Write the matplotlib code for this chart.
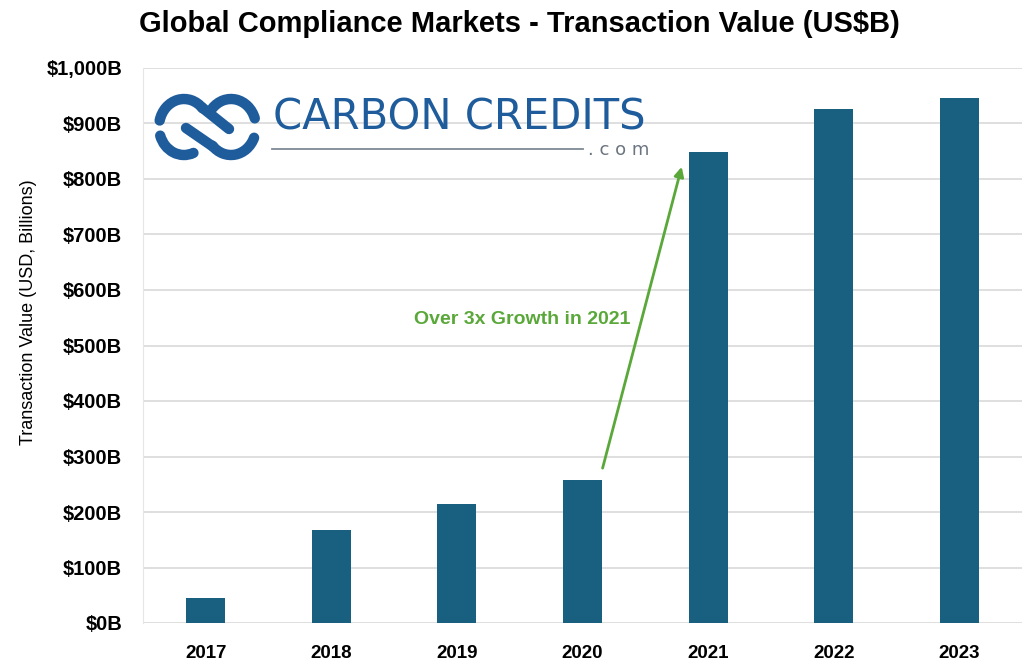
import matplotlib
matplotlib.use("Agg")
import matplotlib.pyplot as plt
from matplotlib.patches import Arc

# data
years = ["2017", "2018", "2019", "2020", "2021", "2022", "2023"]
values = [45, 168, 214, 258, 848, 926, 946]
yticks = [0, 100, 200, 300, 400, 500, 600, 700, 800, 900, 1000]
ytick_labels = ["$0B", "$100B", "$200B", "$300B", "$400B", "$500B",
                "$600B", "$700B", "$800B", "$900B", "$1,000B"]

bar_color = "#185f80"
green = "#5aa83a"
logo_blue = "#1f5c9c"

plt.rcParams['font.family'] = ['Liberation Sans', 'DejaVu Sans']

fig = plt.figure(figsize=(10.24, 6.62), dpi=100)
ax = fig.add_axes([143/1024, 39/662, 879/1024, 555/662])

x = range(len(years))
ax.bar(x, values, width=0.31, color=bar_color, zorder=3)
ax.set_xlim(-0.5, 6.5)
ax.set_ylim(0, 1000)
ax.set_yticks(yticks)
ax.set_yticklabels(ytick_labels, fontsize=14.5, fontweight='bold')
ax.set_xticks(list(x))
ax.set_xticklabels(years, fontsize=13.5, fontweight='bold')
ax.tick_params(axis='y', length=0, pad=15)
ax.tick_params(axis='x', length=0, pad=16)
ax.grid(axis='y', color='#d9d9d9', linewidth=1.2, zorder=0)
for s in ['top', 'right', 'bottom']:
    ax.spines[s].set_visible(False)
ax.spines['left'].set_color('#e6e6e6')

ax.set_ylabel("Transaction Value (USD, Billions)", fontsize=13)
ax.yaxis.set_label_coords(-0.121, 0.56)

fig.text(0.507, 0.963, "Global Compliance Markets - Transaction Value (US$B)",
         ha='center', va='center', fontsize=21, fontweight='bold')

# growth annotation
ax.annotate("", xy=(3.79, 822), xytext=(3.16, 279),
            arrowprops=dict(arrowstyle='-|>', color=green, lw=2,
                            mutation_scale=14, shrinkA=0, shrinkB=0))
ax.text(2.52, 546, "Over 3x Growth in 2021", color=green, fontsize=14,
        fontweight='bold', ha='center', va='center')

# logo overlay in pixel coordinates (y up)
lg = fig.add_axes([0, 0, 1, 1], facecolor='none')
lg.set_xlim(0, 1024)
lg.set_ylim(0, 662)
lg.axis('off')
lw = 7.5
cl = (184, 535)
cr = (231, 535)
w, h = 50, 56
lg.add_patch(Arc(cl, w, h, theta1=45, theta2=165, color=logo_blue, lw=lw, capstyle='round'))
lg.add_patch(Arc(cl, w, h, theta1=200, theta2=290, color=logo_blue, lw=lw, capstyle='round'))
lg.add_patch(Arc(cr, w, h, theta1=20, theta2=135, color=logo_blue, lw=lw, capstyle='round'))
lg.add_patch(Arc(cr, w, h, theta1=225, theta2=335, color=logo_blue, lw=lw, capstyle='round'))
lg.plot([201.7, 229], [554.8, 533], color=logo_blue, lw=lw, solid_capstyle='round')
lg.plot([186, 213.3], [534, 515.2], color=logo_blue, lw=lw, solid_capstyle='round')
lg.text(273, 545, "CARBON CREDITS", color=logo_blue, fontsize=30,
        family=['DejaVu Sans'], ha='left', va='center')
lg.plot([272, 583], [513, 513], color='#7f8a96', lw=1.3)
lg.text(649, 512, ". c o m", color='#6b7580', fontsize=13, ha='right',
        va='center', family=['DejaVu Sans'])

fig.savefig("out.png", dpi=100, facecolor='white')
